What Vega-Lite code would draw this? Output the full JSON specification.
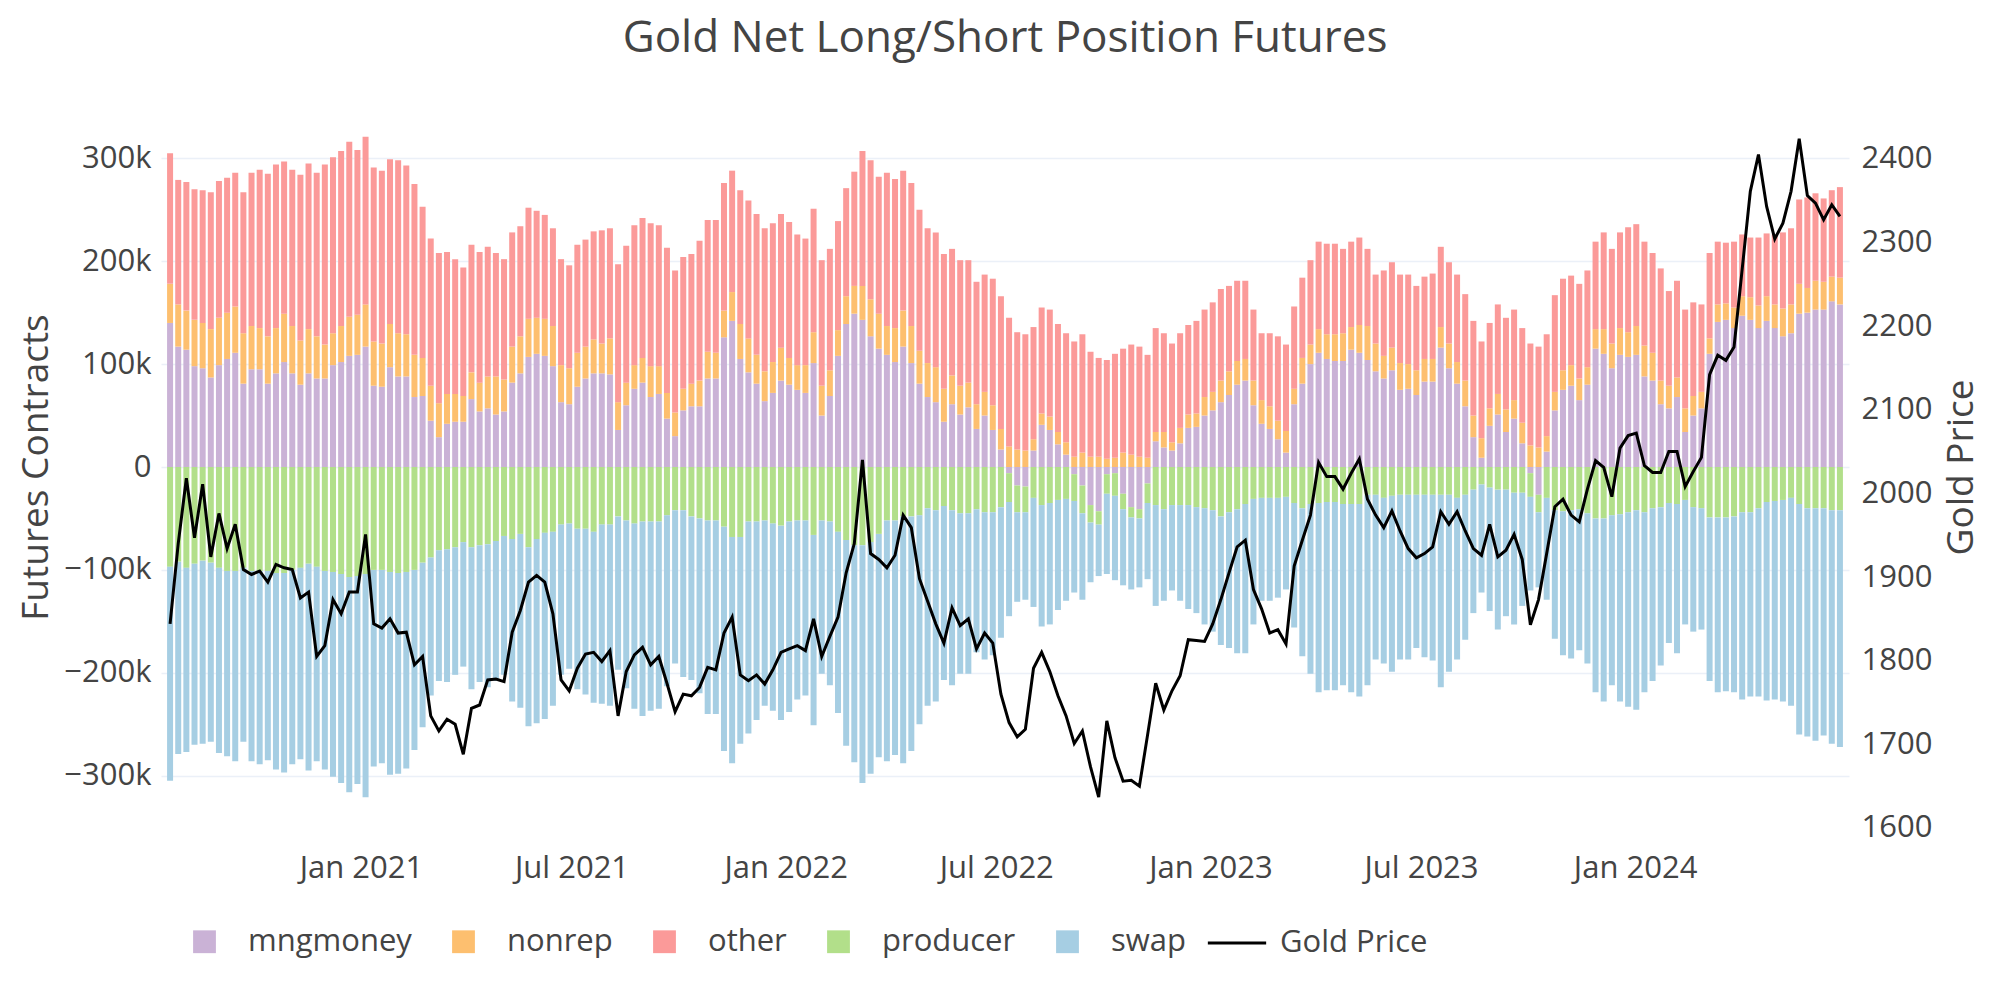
{
  "$schema": "https://vega.github.io/schema/vega-lite/v6.json",
  "autosize": {"type": "none"},
  "width": 1688,
  "height": 732,
  "padding": {"left": 161, "top": 101, "right": 150, "bottom": 167},
  "background": "white",
  "title": {"text": "Gold Net Long/Short Position Futures", "fontSize": 44, "fontWeight": "normal", "color": "#444", "font": "Open Sans", "offset": 40, "anchor": "middle"},
  "data": {"values": [
{"date":"2020-07-21","mngmoney":140000,"nonrep":38000,"other":127000,"producer":-97000,"swap":-208000,"gold":1844},
{"date":"2020-07-28","mngmoney":117000,"nonrep":41000,"other":121000,"producer":-92000,"swap":-187000,"gold":1940},
{"date":"2020-08-04","mngmoney":114000,"nonrep":38000,"other":125000,"producer":-98000,"swap":-179000,"gold":2018},
{"date":"2020-08-11","mngmoney":98000,"nonrep":45000,"other":127000,"producer":-94000,"swap":-176000,"gold":1947},
{"date":"2020-08-18","mngmoney":96000,"nonrep":44000,"other":129000,"producer":-91000,"swap":-178000,"gold":2011},
{"date":"2020-08-25","mngmoney":87000,"nonrep":47000,"other":133000,"producer":-93000,"swap":-174000,"gold":1924},
{"date":"2020-09-01","mngmoney":99000,"nonrep":46000,"other":133000,"producer":-98000,"swap":-180000,"gold":1976},
{"date":"2020-09-08","mngmoney":105000,"nonrep":45000,"other":131000,"producer":-101000,"swap":-180000,"gold":1934},
{"date":"2020-09-15","mngmoney":111000,"nonrep":45000,"other":130000,"producer":-101000,"swap":-185000,"gold":1963},
{"date":"2020-09-22","mngmoney":81000,"nonrep":49000,"other":137000,"producer":-98000,"swap":-169000,"gold":1909},
{"date":"2020-09-29","mngmoney":95000,"nonrep":42000,"other":149000,"producer":-101000,"swap":-185000,"gold":1903},
{"date":"2020-10-06","mngmoney":95000,"nonrep":40000,"other":154000,"producer":-101000,"swap":-188000,"gold":1907},
{"date":"2020-10-13","mngmoney":81000,"nonrep":46000,"other":158000,"producer":-101000,"swap":-184000,"gold":1894},
{"date":"2020-10-20","mngmoney":91000,"nonrep":44000,"other":159000,"producer":-103000,"swap":-191000,"gold":1915},
{"date":"2020-10-27","mngmoney":102000,"nonrep":47000,"other":148000,"producer":-103000,"swap":-194000,"gold":1911},
{"date":"2020-11-03","mngmoney":91000,"nonrep":46000,"other":152000,"producer":-100000,"swap":-189000,"gold":1909},
{"date":"2020-11-10","mngmoney":80000,"nonrep":43000,"other":161000,"producer":-98000,"swap":-186000,"gold":1875},
{"date":"2020-11-17","mngmoney":91000,"nonrep":43000,"other":161000,"producer":-94000,"swap":-201000,"gold":1882},
{"date":"2020-11-24","mngmoney":86000,"nonrep":41000,"other":159000,"producer":-97000,"swap":-189000,"gold":1805},
{"date":"2020-12-01","mngmoney":86000,"nonrep":33000,"other":175000,"producer":-101000,"swap":-193000,"gold":1818},
{"date":"2020-12-08","mngmoney":99000,"nonrep":31000,"other":171000,"producer":-102000,"swap":-199000,"gold":1873},
{"date":"2020-12-15","mngmoney":102000,"nonrep":35000,"other":170000,"producer":-104000,"swap":-203000,"gold":1856},
{"date":"2020-12-22","mngmoney":108000,"nonrep":38000,"other":170000,"producer":-107000,"swap":-209000,"gold":1882},
{"date":"2020-12-29","mngmoney":109000,"nonrep":39000,"other":160000,"producer":-106000,"swap":-202000,"gold":1882},
{"date":"2021-01-05","mngmoney":117000,"nonrep":41000,"other":163000,"producer":-104000,"swap":-217000,"gold":1951},
{"date":"2021-01-12","mngmoney":79000,"nonrep":43000,"other":169000,"producer":-100000,"swap":-191000,"gold":1844},
{"date":"2021-01-19","mngmoney":78000,"nonrep":42000,"other":168000,"producer":-100000,"swap":-188000,"gold":1839},
{"date":"2021-01-26","mngmoney":97000,"nonrep":42000,"other":160000,"producer":-102000,"swap":-197000,"gold":1850},
{"date":"2021-02-02","mngmoney":88000,"nonrep":42000,"other":168000,"producer":-103000,"swap":-195000,"gold":1833},
{"date":"2021-02-09","mngmoney":88000,"nonrep":41000,"other":164000,"producer":-102000,"swap":-191000,"gold":1834},
{"date":"2021-02-16","mngmoney":68000,"nonrep":41000,"other":166000,"producer":-100000,"swap":-175000,"gold":1795},
{"date":"2021-02-23","mngmoney":69000,"nonrep":37000,"other":147000,"producer":-93000,"swap":-160000,"gold":1805},
{"date":"2021-03-02","mngmoney":45000,"nonrep":34000,"other":143000,"producer":-88000,"swap":-134000,"gold":1734},
{"date":"2021-03-09","mngmoney":29000,"nonrep":33000,"other":146000,"producer":-81000,"swap":-127000,"gold":1716},
{"date":"2021-03-16","mngmoney":42000,"nonrep":29000,"other":138000,"producer":-80000,"swap":-129000,"gold":1730},
{"date":"2021-03-23","mngmoney":44000,"nonrep":27000,"other":131000,"producer":-78000,"swap":-124000,"gold":1724},
{"date":"2021-03-30","mngmoney":44000,"nonrep":25000,"other":125000,"producer":-73000,"swap":-121000,"gold":1688},
{"date":"2021-04-06","mngmoney":66000,"nonrep":26000,"other":124000,"producer":-78000,"swap":-138000,"gold":1743},
{"date":"2021-04-13","mngmoney":54000,"nonrep":28000,"other":127000,"producer":-76000,"swap":-133000,"gold":1747},
{"date":"2021-04-20","mngmoney":57000,"nonrep":31000,"other":126000,"producer":-75000,"swap":-139000,"gold":1777},
{"date":"2021-04-27","mngmoney":51000,"nonrep":37000,"other":120000,"producer":-72000,"swap":-136000,"gold":1778},
{"date":"2021-05-04","mngmoney":54000,"nonrep":31000,"other":117000,"producer":-67000,"swap":-135000,"gold":1775},
{"date":"2021-05-11","mngmoney":82000,"nonrep":35000,"other":111000,"producer":-70000,"swap":-158000,"gold":1834},
{"date":"2021-05-18","mngmoney":91000,"nonrep":36000,"other":107000,"producer":-65000,"swap":-169000,"gold":1860},
{"date":"2021-05-25","mngmoney":107000,"nonrep":37000,"other":108000,"producer":-78000,"swap":-174000,"gold":1894},
{"date":"2021-06-01","mngmoney":110000,"nonrep":35000,"other":104000,"producer":-70000,"swap":-179000,"gold":1902},
{"date":"2021-06-08","mngmoney":108000,"nonrep":36000,"other":101000,"producer":-64000,"swap":-181000,"gold":1894},
{"date":"2021-06-15","mngmoney":98000,"nonrep":39000,"other":95000,"producer":-63000,"swap":-169000,"gold":1856},
{"date":"2021-06-22","mngmoney":63000,"nonrep":36000,"other":103000,"producer":-56000,"swap":-146000,"gold":1777},
{"date":"2021-06-29","mngmoney":61000,"nonrep":35000,"other":100000,"producer":-55000,"swap":-141000,"gold":1764},
{"date":"2021-07-06","mngmoney":78000,"nonrep":33000,"other":105000,"producer":-60000,"swap":-156000,"gold":1791},
{"date":"2021-07-13","mngmoney":86000,"nonrep":31000,"other":104000,"producer":-60000,"swap":-161000,"gold":1808},
{"date":"2021-07-20","mngmoney":91000,"nonrep":33000,"other":105000,"producer":-63000,"swap":-166000,"gold":1810},
{"date":"2021-07-27","mngmoney":91000,"nonrep":29000,"other":110000,"producer":-56000,"swap":-174000,"gold":1799},
{"date":"2021-08-03","mngmoney":90000,"nonrep":35000,"other":107000,"producer":-56000,"swap":-176000,"gold":1812},
{"date":"2021-08-10","mngmoney":36000,"nonrep":27000,"other":134000,"producer":-48000,"swap":-149000,"gold":1734},
{"date":"2021-08-17","mngmoney":60000,"nonrep":22000,"other":133000,"producer":-52000,"swap":-163000,"gold":1787},
{"date":"2021-08-24","mngmoney":76000,"nonrep":23000,"other":136000,"producer":-55000,"swap":-180000,"gold":1807},
{"date":"2021-08-31","mngmoney":82000,"nonrep":24000,"other":136000,"producer":-53000,"swap":-189000,"gold":1816},
{"date":"2021-09-07","mngmoney":68000,"nonrep":30000,"other":139000,"producer":-53000,"swap":-184000,"gold":1795},
{"date":"2021-09-14","mngmoney":71000,"nonrep":27000,"other":137000,"producer":-53000,"swap":-182000,"gold":1805},
{"date":"2021-09-21","mngmoney":47000,"nonrep":25000,"other":141000,"producer":-47000,"swap":-166000,"gold":1773},
{"date":"2021-09-28","mngmoney":30000,"nonrep":23000,"other":138000,"producer":-42000,"swap":-149000,"gold":1739},
{"date":"2021-10-05","mngmoney":55000,"nonrep":21000,"other":128000,"producer":-42000,"swap":-162000,"gold":1760},
{"date":"2021-10-12","mngmoney":59000,"nonrep":22000,"other":126000,"producer":-48000,"swap":-159000,"gold":1758},
{"date":"2021-10-19","mngmoney":59000,"nonrep":25000,"other":136000,"producer":-50000,"swap":-170000,"gold":1768},
{"date":"2021-10-26","mngmoney":86000,"nonrep":26000,"other":128000,"producer":-52000,"swap":-188000,"gold":1792},
{"date":"2021-11-02","mngmoney":86000,"nonrep":25000,"other":129000,"producer":-52000,"swap":-188000,"gold":1789},
{"date":"2021-11-09","mngmoney":126000,"nonrep":26000,"other":124000,"producer":-58000,"swap":-218000,"gold":1833},
{"date":"2021-11-16","mngmoney":142000,"nonrep":28000,"other":118000,"producer":-68000,"swap":-220000,"gold":1852},
{"date":"2021-11-23","mngmoney":105000,"nonrep":34000,"other":130000,"producer":-68000,"swap":-201000,"gold":1783},
{"date":"2021-11-30","mngmoney":92000,"nonrep":33000,"other":134000,"producer":-53000,"swap":-206000,"gold":1776},
{"date":"2021-12-07","mngmoney":81000,"nonrep":28000,"other":137000,"producer":-53000,"swap":-193000,"gold":1783},
{"date":"2021-12-14","mngmoney":64000,"nonrep":29000,"other":139000,"producer":-52000,"swap":-180000,"gold":1772},
{"date":"2021-12-21","mngmoney":72000,"nonrep":30000,"other":135000,"producer":-55000,"swap":-182000,"gold":1789},
{"date":"2021-12-28","mngmoney":84000,"nonrep":32000,"other":130000,"producer":-57000,"swap":-189000,"gold":1810},
{"date":"2022-01-04","mngmoney":80000,"nonrep":26000,"other":132000,"producer":-53000,"swap":-185000,"gold":1814},
{"date":"2022-01-11","mngmoney":75000,"nonrep":24000,"other":127000,"producer":-52000,"swap":-174000,"gold":1818},
{"date":"2022-01-18","mngmoney":72000,"nonrep":27000,"other":123000,"producer":-52000,"swap":-170000,"gold":1812},
{"date":"2022-01-25","mngmoney":101000,"nonrep":30000,"other":120000,"producer":-66000,"swap":-185000,"gold":1850},
{"date":"2022-02-01","mngmoney":50000,"nonrep":29000,"other":122000,"producer":-52000,"swap":-149000,"gold":1805},
{"date":"2022-02-08","mngmoney":69000,"nonrep":25000,"other":118000,"producer":-53000,"swap":-159000,"gold":1829},
{"date":"2022-02-15","mngmoney":108000,"nonrep":25000,"other":106000,"producer":-63000,"swap":-176000,"gold":1852},
{"date":"2022-02-22","mngmoney":139000,"nonrep":27000,"other":105000,"producer":-71000,"swap":-200000,"gold":1905},
{"date":"2022-03-01","mngmoney":149000,"nonrep":27000,"other":111000,"producer":-76000,"swap":-211000,"gold":1940},
{"date":"2022-03-08","mngmoney":143000,"nonrep":33000,"other":131000,"producer":-76000,"swap":-231000,"gold":2040},
{"date":"2022-03-15","mngmoney":127000,"nonrep":36000,"other":135000,"producer":-73000,"swap":-225000,"gold":1928},
{"date":"2022-03-22","mngmoney":115000,"nonrep":34000,"other":133000,"producer":-65000,"swap":-217000,"gold":1921},
{"date":"2022-03-29","mngmoney":109000,"nonrep":28000,"other":149000,"producer":-52000,"swap":-234000,"gold":1911},
{"date":"2022-04-05","mngmoney":102000,"nonrep":33000,"other":145000,"producer":-52000,"swap":-228000,"gold":1926},
{"date":"2022-04-12","mngmoney":117000,"nonrep":35000,"other":136000,"producer":-48000,"swap":-240000,"gold":1974},
{"date":"2022-04-19","mngmoney":101000,"nonrep":36000,"other":139000,"producer":-48000,"swap":-228000,"gold":1959},
{"date":"2022-04-26","mngmoney":81000,"nonrep":32000,"other":137000,"producer":-47000,"swap":-203000,"gold":1898},
{"date":"2022-05-03","mngmoney":68000,"nonrep":33000,"other":131000,"producer":-40000,"swap":-192000,"gold":1871},
{"date":"2022-05-10","mngmoney":63000,"nonrep":34000,"other":131000,"producer":-42000,"swap":-186000,"gold":1844},
{"date":"2022-05-17","mngmoney":44000,"nonrep":32000,"other":131000,"producer":-38000,"swap":-169000,"gold":1821},
{"date":"2022-05-24","mngmoney":61000,"nonrep":28000,"other":123000,"producer":-42000,"swap":-170000,"gold":1863},
{"date":"2022-05-31","mngmoney":51000,"nonrep":28000,"other":122000,"producer":-45000,"swap":-156000,"gold":1842},
{"date":"2022-06-07","mngmoney":58000,"nonrep":24000,"other":119000,"producer":-45000,"swap":-156000,"gold":1850},
{"date":"2022-06-14","mngmoney":37000,"nonrep":24000,"other":119000,"producer":-41000,"swap":-139000,"gold":1814},
{"date":"2022-06-21","mngmoney":50000,"nonrep":23000,"other":114000,"producer":-44000,"swap":-143000,"gold":1833},
{"date":"2022-06-28","mngmoney":36000,"nonrep":24000,"other":123000,"producer":-44000,"swap":-139000,"gold":1821},
{"date":"2022-07-05","mngmoney":17000,"nonrep":20000,"other":129000,"producer":-39000,"swap":-127000,"gold":1760},
{"date":"2022-07-12","mngmoney":-6000,"nonrep":20000,"other":125000,"producer":-28000,"swap":-111000,"gold":1726},
{"date":"2022-07-19","mngmoney":-18000,"nonrep":17000,"other":114000,"producer":-26000,"swap":-87000,"gold":1709},
{"date":"2022-07-26","mngmoney":-19000,"nonrep":16000,"other":113000,"producer":-25000,"swap":-85000,"gold":1718},
{"date":"2022-08-02","mngmoney":16000,"nonrep":11000,"other":109000,"producer":-30000,"swap":-106000,"gold":1791},
{"date":"2022-08-09","mngmoney":41000,"nonrep":11000,"other":103000,"producer":-37000,"swap":-118000,"gold":1810},
{"date":"2022-08-16","mngmoney":36000,"nonrep":13000,"other":104000,"producer":-35000,"swap":-118000,"gold":1787},
{"date":"2022-08-23","mngmoney":22000,"nonrep":12000,"other":105000,"producer":-32000,"swap":-107000,"gold":1758},
{"date":"2022-08-30","mngmoney":12000,"nonrep":12000,"other":106000,"producer":-31000,"swap":-99000,"gold":1734},
{"date":"2022-09-06","mngmoney":-7000,"nonrep":10000,"other":112000,"producer":-26000,"swap":-89000,"gold":1701},
{"date":"2022-09-13","mngmoney":-18000,"nonrep":14000,"other":115000,"producer":-27000,"swap":-84000,"gold":1716},
{"date":"2022-09-20","mngmoney":-37000,"nonrep":10000,"other":102000,"producer":-17000,"swap":-58000,"gold":1673},
{"date":"2022-09-27","mngmoney":-43000,"nonrep":10000,"other":96000,"producer":-13000,"swap":-50000,"gold":1637},
{"date":"2022-10-04","mngmoney":-7000,"nonrep":8000,"other":96000,"producer":-19000,"swap":-78000,"gold":1728},
{"date":"2022-10-11","mngmoney":-6000,"nonrep":9000,"other":101000,"producer":-22000,"swap":-82000,"gold":1684},
{"date":"2022-10-18","mngmoney":-26000,"nonrep":14000,"other":101000,"producer":-15000,"swap":-74000,"gold":1656},
{"date":"2022-10-25","mngmoney":-39000,"nonrep":12000,"other":107000,"producer":-10000,"swap":-70000,"gold":1657},
{"date":"2022-11-01","mngmoney":-41000,"nonrep":10000,"other":107000,"producer":-9000,"swap":-67000,"gold":1650},
{"date":"2022-11-08","mngmoney":-16000,"nonrep":9000,"other":100000,"producer":-19000,"swap":-74000,"gold":1711},
{"date":"2022-11-15","mngmoney":25000,"nonrep":9000,"other":101000,"producer":-37000,"swap":-98000,"gold":1773},
{"date":"2022-11-22","mngmoney":19000,"nonrep":15000,"other":96000,"producer":-41000,"swap":-89000,"gold":1741},
{"date":"2022-11-29","mngmoney":16000,"nonrep":8000,"other":96000,"producer":-37000,"swap":-83000,"gold":1764},
{"date":"2022-12-06","mngmoney":23000,"nonrep":15000,"other":92000,"producer":-37000,"swap":-93000,"gold":1782},
{"date":"2022-12-13","mngmoney":38000,"nonrep":13000,"other":87000,"producer":-37000,"swap":-101000,"gold":1825},
{"date":"2022-12-20","mngmoney":39000,"nonrep":13000,"other":90000,"producer":-39000,"swap":-103000,"gold":1824},
{"date":"2022-12-27","mngmoney":50000,"nonrep":18000,"other":85000,"producer":-40000,"swap":-113000,"gold":1823},
{"date":"2023-01-03","mngmoney":55000,"nonrep":18000,"other":87000,"producer":-42000,"swap":-118000,"gold":1844},
{"date":"2023-01-10","mngmoney":63000,"nonrep":21000,"other":89000,"producer":-48000,"swap":-125000,"gold":1873},
{"date":"2023-01-17","mngmoney":70000,"nonrep":23000,"other":83000,"producer":-44000,"swap":-132000,"gold":1905},
{"date":"2023-01-24","mngmoney":80000,"nonrep":23000,"other":78000,"producer":-41000,"swap":-140000,"gold":1936},
{"date":"2023-01-31","mngmoney":84000,"nonrep":21000,"other":76000,"producer":-36000,"swap":-145000,"gold":1944},
{"date":"2023-02-07","mngmoney":60000,"nonrep":24000,"other":69000,"producer":-31000,"swap":-122000,"gold":1885},
{"date":"2023-02-14","mngmoney":42000,"nonrep":23000,"other":65000,"producer":-30000,"swap":-100000,"gold":1862},
{"date":"2023-02-21","mngmoney":37000,"nonrep":22000,"other":71000,"producer":-30000,"swap":-100000,"gold":1833},
{"date":"2023-02-28","mngmoney":27000,"nonrep":18000,"other":82000,"producer":-30000,"swap":-97000,"gold":1837},
{"date":"2023-03-07","mngmoney":14000,"nonrep":21000,"other":84000,"producer":-29000,"swap":-90000,"gold":1820},
{"date":"2023-03-14","mngmoney":61000,"nonrep":15000,"other":80000,"producer":-35000,"swap":-121000,"gold":1913},
{"date":"2023-03-21","mngmoney":81000,"nonrep":25000,"other":78000,"producer":-40000,"swap":-144000,"gold":1944},
{"date":"2023-03-28","mngmoney":100000,"nonrep":19000,"other":82000,"producer":-36000,"swap":-165000,"gold":1974},
{"date":"2023-04-04","mngmoney":111000,"nonrep":23000,"other":85000,"producer":-35000,"swap":-184000,"gold":2037},
{"date":"2023-04-11","mngmoney":105000,"nonrep":24000,"other":88000,"producer":-34000,"swap":-183000,"gold":2020},
{"date":"2023-04-18","mngmoney":103000,"nonrep":26000,"other":88000,"producer":-34000,"swap":-183000,"gold":2020},
{"date":"2023-04-25","mngmoney":103000,"nonrep":27000,"other":82000,"producer":-36000,"swap":-176000,"gold":2005},
{"date":"2023-05-02","mngmoney":114000,"nonrep":22000,"other":83000,"producer":-36000,"swap":-183000,"gold":2024},
{"date":"2023-05-09","mngmoney":111000,"nonrep":27000,"other":85000,"producer":-36000,"swap":-187000,"gold":2041},
{"date":"2023-05-16","mngmoney":104000,"nonrep":33000,"other":75000,"producer":-27000,"swap":-185000,"gold":1993},
{"date":"2023-05-23","mngmoney":93000,"nonrep":27000,"other":67000,"producer":-27000,"swap":-160000,"gold":1974},
{"date":"2023-05-30","mngmoney":86000,"nonrep":22000,"other":83000,"producer":-30000,"swap":-161000,"gold":1959},
{"date":"2023-06-06","mngmoney":94000,"nonrep":22000,"other":83000,"producer":-28000,"swap":-171000,"gold":1979},
{"date":"2023-06-13","mngmoney":75000,"nonrep":26000,"other":86000,"producer":-27000,"swap":-160000,"gold":1955},
{"date":"2023-06-20","mngmoney":76000,"nonrep":24000,"other":87000,"producer":-27000,"swap":-160000,"gold":1934},
{"date":"2023-06-27","mngmoney":70000,"nonrep":24000,"other":82000,"producer":-27000,"swap":-149000,"gold":1923},
{"date":"2023-07-04","mngmoney":83000,"nonrep":22000,"other":80000,"producer":-27000,"swap":-158000,"gold":1928},
{"date":"2023-07-11","mngmoney":83000,"nonrep":22000,"other":83000,"producer":-27000,"swap":-161000,"gold":1936},
{"date":"2023-07-18","mngmoney":116000,"nonrep":20000,"other":78000,"producer":-27000,"swap":-187000,"gold":1978},
{"date":"2023-07-25","mngmoney":96000,"nonrep":24000,"other":79000,"producer":-27000,"swap":-172000,"gold":1963},
{"date":"2023-08-01","mngmoney":81000,"nonrep":21000,"other":85000,"producer":-30000,"swap":-157000,"gold":1978},
{"date":"2023-08-08","mngmoney":59000,"nonrep":25000,"other":84000,"producer":-27000,"swap":-141000,"gold":1955},
{"date":"2023-08-15","mngmoney":29000,"nonrep":21000,"other":92000,"producer":-22000,"swap":-120000,"gold":1934},
{"date":"2023-08-22","mngmoney":9000,"nonrep":19000,"other":94000,"producer":-17000,"swap":-105000,"gold":1926},
{"date":"2023-08-29","mngmoney":40000,"nonrep":17000,"other":83000,"producer":-20000,"swap":-120000,"gold":1963},
{"date":"2023-09-05","mngmoney":51000,"nonrep":20000,"other":87000,"producer":-22000,"swap":-136000,"gold":1924},
{"date":"2023-09-12","mngmoney":34000,"nonrep":22000,"other":89000,"producer":-22000,"swap":-123000,"gold":1932},
{"date":"2023-09-19","mngmoney":47000,"nonrep":18000,"other":88000,"producer":-25000,"swap":-128000,"gold":1951},
{"date":"2023-09-26","mngmoney":23000,"nonrep":20000,"other":92000,"producer":-25000,"swap":-110000,"gold":1921},
{"date":"2023-10-03","mngmoney":-6000,"nonrep":21000,"other":99000,"producer":-23000,"swap":-91000,"gold":1843},
{"date":"2023-10-10","mngmoney":-27000,"nonrep":19000,"other":98000,"producer":-17000,"swap":-73000,"gold":1873},
{"date":"2023-10-17","mngmoney":15000,"nonrep":15000,"other":99000,"producer":-30000,"swap":-99000,"gold":1928},
{"date":"2023-10-24","mngmoney":55000,"nonrep":18000,"other":94000,"producer":-42000,"swap":-125000,"gold":1984},
{"date":"2023-10-31","mngmoney":75000,"nonrep":19000,"other":89000,"producer":-43000,"swap":-140000,"gold":1993},
{"date":"2023-11-07","mngmoney":79000,"nonrep":20000,"other":87000,"producer":-42000,"swap":-144000,"gold":1974},
{"date":"2023-11-14","mngmoney":65000,"nonrep":21000,"other":92000,"producer":-41000,"swap":-137000,"gold":1966},
{"date":"2023-11-21","mngmoney":80000,"nonrep":17000,"other":94000,"producer":-45000,"swap":-146000,"gold":2005},
{"date":"2023-11-28","mngmoney":115000,"nonrep":19000,"other":85000,"producer":-50000,"swap":-169000,"gold":2039},
{"date":"2023-12-05","mngmoney":110000,"nonrep":24000,"other":94000,"producer":-50000,"swap":-178000,"gold":2031},
{"date":"2023-12-12","mngmoney":96000,"nonrep":24000,"other":92000,"producer":-47000,"swap":-165000,"gold":1996},
{"date":"2023-12-19","mngmoney":109000,"nonrep":26000,"other":93000,"producer":-46000,"swap":-182000,"gold":2054},
{"date":"2023-12-26","mngmoney":107000,"nonrep":24000,"other":102000,"producer":-44000,"swap":-189000,"gold":2069},
{"date":"2024-01-02","mngmoney":109000,"nonrep":28000,"other":99000,"producer":-42000,"swap":-194000,"gold":2072},
{"date":"2024-01-09","mngmoney":88000,"nonrep":30000,"other":101000,"producer":-44000,"swap":-175000,"gold":2033},
{"date":"2024-01-16","mngmoney":84000,"nonrep":27000,"other":97000,"producer":-40000,"swap":-168000,"gold":2025},
{"date":"2024-01-23","mngmoney":61000,"nonrep":23000,"other":109000,"producer":-39000,"swap":-154000,"gold":2025},
{"date":"2024-01-30","mngmoney":57000,"nonrep":22000,"other":92000,"producer":-35000,"swap":-136000,"gold":2050},
{"date":"2024-02-06","mngmoney":68000,"nonrep":19000,"other":94000,"producer":-36000,"swap":-145000,"gold":2050},
{"date":"2024-02-13","mngmoney":34000,"nonrep":23000,"other":96000,"producer":-32000,"swap":-121000,"gold":2008},
{"date":"2024-02-20","mngmoney":50000,"nonrep":19000,"other":91000,"producer":-39000,"swap":-121000,"gold":2026},
{"date":"2024-02-27","mngmoney":57000,"nonrep":16000,"other":85000,"producer":-40000,"swap":-118000,"gold":2043},
{"date":"2024-03-05","mngmoney":110000,"nonrep":15000,"other":83000,"producer":-49000,"swap":-159000,"gold":2142},
{"date":"2024-03-12","mngmoney":141000,"nonrep":17000,"other":61000,"producer":-49000,"swap":-170000,"gold":2165},
{"date":"2024-03-19","mngmoney":143000,"nonrep":16000,"other":59000,"producer":-49000,"swap":-169000,"gold":2159},
{"date":"2024-03-26","mngmoney":135000,"nonrep":20000,"other":64000,"producer":-48000,"swap":-171000,"gold":2175},
{"date":"2024-04-02","mngmoney":147000,"nonrep":19000,"other":60000,"producer":-44000,"swap":-182000,"gold":2268},
{"date":"2024-04-09","mngmoney":143000,"nonrep":22000,"other":58000,"producer":-44000,"swap":-179000,"gold":2361},
{"date":"2024-04-16","mngmoney":135000,"nonrep":22000,"other":66000,"producer":-40000,"swap":-183000,"gold":2405},
{"date":"2024-04-23","mngmoney":142000,"nonrep":24000,"other":61000,"producer":-34000,"swap":-193000,"gold":2343},
{"date":"2024-04-30","mngmoney":135000,"nonrep":23000,"other":68000,"producer":-33000,"swap":-193000,"gold":2304},
{"date":"2024-05-07","mngmoney":127000,"nonrep":27000,"other":74000,"producer":-32000,"swap":-196000,"gold":2323},
{"date":"2024-05-14","mngmoney":130000,"nonrep":28000,"other":74000,"producer":-30000,"swap":-202000,"gold":2361},
{"date":"2024-05-21","mngmoney":149000,"nonrep":29000,"other":82000,"producer":-36000,"swap":-224000,"gold":2424},
{"date":"2024-05-28","mngmoney":150000,"nonrep":24000,"other":88000,"producer":-40000,"swap":-222000,"gold":2356},
{"date":"2024-06-04","mngmoney":153000,"nonrep":28000,"other":85000,"producer":-40000,"swap":-226000,"gold":2347},
{"date":"2024-06-11","mngmoney":153000,"nonrep":27000,"other":81000,"producer":-40000,"swap":-221000,"gold":2327},
{"date":"2024-06-18","mngmoney":161000,"nonrep":24000,"other":84000,"producer":-42000,"swap":-227000,"gold":2345},
{"date":"2024-06-25","mngmoney":158000,"nonrep":26000,"other":88000,"producer":-42000,"swap":-230000,"gold":2331}
  ]},
  "encoding": {
    "x": {
      "field": "date", "type": "temporal",
      "scale": {"type": "utc", "domain": [{"year": 2020, "month": 7, "date": 17, "hours": 12, "utc": true}, {"year": 2024, "month": 6, "date": 28, "hours": 12, "utc": true}]},
      "axis": {
        "title": null, "grid": false, "domain": false, "ticks": false, "tickSize": 0,
        "labelPadding": 20, "labelAngle": 0, "labelFlush": false, "format": "%b %Y",
        "values": [
          {"year": 2021, "month": 1, "date": 1, "utc": true},
          {"year": 2021, "month": 7, "date": 1, "utc": true},
          {"year": 2022, "month": 1, "date": 1, "utc": true},
          {"year": 2022, "month": 7, "date": 1, "utc": true},
          {"year": 2023, "month": 1, "date": 1, "utc": true},
          {"year": 2023, "month": 7, "date": 1, "utc": true},
          {"year": 2024, "month": 1, "date": 1, "utc": true}
        ]
      }
    }
  },
  "layer": [
    {
      "transform": [{"fold": ["mngmoney", "nonrep", "other", "producer", "swap"], "as": ["category", "contracts"]}],
      "mark": {"type": "bar", "width": 6.0},
      "encoding": {
        "y": {
          "field": "contracts", "type": "quantitative", "stack": "zero",
          "scale": {"domain": [-355700, 355700], "nice": false, "zero": false},
          "axis": {
            "title": "Futures Contracts", "titlePadding": 8, "grid": true, "gridColor": "#ebf0f8", "gridWidth": 1.5,
            "domain": false, "ticks": false, "tickSize": 0, "labelPadding": 10, "format": "~s",
            "labelExpr": "datum.value === 0 ? '0' : datum.label",
            "values": [-300000, -200000, -100000, 0, 100000, 200000, 300000]
          }
        },
        "order": {"field": "category", "type": "nominal", "sort": "ascending"},
        "color": {
          "field": "category", "type": "nominal",
          "scale": {"domain": ["mngmoney", "nonrep", "other", "producer", "swap"], "range": ["#cab2d6", "#fdbf6f", "#fb9a99", "#b2df8a", "#a6cee3"]},
          "legend": {"title": null, "orient": "none", "legendX": 28, "legendY": 825, "direction": "horizontal", "symbolType": "square", "symbolSize": 520, "labelOffset": 28, "columnPadding": 36}
        }
      }
    },
    {
      "mark": {"type": "line", "color": "black", "strokeWidth": 3},
      "encoding": {
        "y": {
          "field": "gold", "type": "quantitative",
          "scale": {"domain": [1594, 2469], "nice": false, "zero": false},
          "axis": {
            "orient": "right", "title": "Gold Price", "titleAngle": 270, "titleBaseline": "top", "titlePadding": 12, "grid": false,
            "domain": false, "ticks": false, "tickSize": 0, "labelPadding": 12, "format": "d",
            "values": [1600, 1700, 1800, 1900, 2000, 2100, 2200, 2300, 2400]
          }
        },
        "stroke": {
          "datum": "Gold Price",
          "scale": {"domain": ["Gold Price"], "range": ["black"]},
          "legend": {"title": null, "orient": "none", "legendX": 1045, "legendY": 811, "direction": "horizontal", "symbolType": "stroke", "symbolSize": 3400, "symbolStrokeWidth": 3, "labelOffset": 12}
        }
      }
    }
  ],
  "resolve": {"scale": {"y": "independent"}},
  "config": {
    "font": "Open Sans",
    "view": {"stroke": null},
    "axis": {"labelFont": "Open Sans", "titleFont": "Open Sans", "labelColor": "#444", "titleColor": "#444", "labelFontSize": 31, "titleFontSize": 37, "titleFontWeight": "normal"},
    "legend": {"labelFont": "Open Sans", "labelFontSize": 31, "labelColor": "#444", "labelLimit": 500}
  }
}
